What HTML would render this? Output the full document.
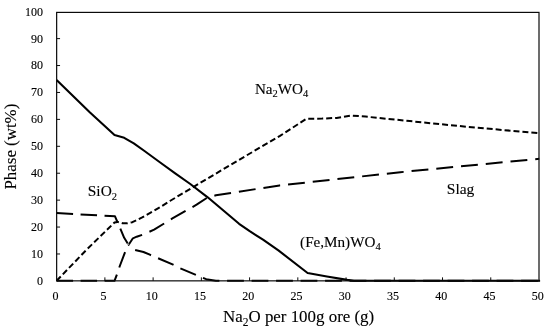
<!DOCTYPE html>
<html><head><meta charset="utf-8"><title>Phase diagram</title>
<style>
html,body{margin:0;padding:0;background:#fff;}
svg{display:block;font-family:"Liberation Serif",serif;fill:#000;}
text{stroke:#000;stroke-width:0.12px;}
.t{font-size:12px;}
.l{font-size:15.4px;}
.a{font-size:16.9px;}
</style></head><body>
<svg width="550" height="333" viewBox="0 0 550 333">
<rect width="550" height="333" fill="#fff"/>
<g fill="none" stroke="#000" stroke-width="2.0" stroke-linejoin="round">
<path d="M56.6,213.1 L115.0,216.3 L117.4,221.9 L124.2,237.8 L128.6,244.8" stroke-dasharray="16.5 7.5" stroke-dashoffset="0.00"/><path d="M128.6,244.8 L133.8,249.6 L143.5,252.0 L149.8,254.7 L173.1,264.7 L179.9,268.2 L206.2,279.2 L215.9,280.8 L539.3,280.8" stroke-dasharray="16.8 7.7" stroke-dashoffset="16.05"/><path d="M56.6,280.8 L114.5,280.8 L117.4,273.3 L119.8,266.0 L125.6,250.7 L128.6,244.8" stroke-dasharray="16.5 7.5" stroke-dashoffset="0.00"/><path d="M128.6,244.8 L132.9,238.3 L136.7,236.7 L143.7,234.3 L154.1,229.7 L172.4,218.4 L196.6,204.7 L207.2,197.7 L215.9,195.3 L279.6,185.4 L400.3,172.2 L539.3,158.8" stroke-dasharray="16.9 7.95" stroke-dashoffset="24.12"/><path d="M56.6,280.8 L85.6,250.7 L114.5,222.5 L117.4,221.9 L122.6,223.3 L127.1,223.3 L132.4,222.2 L142.2,217.4 L160.3,207.1 L169.9,201.0 L201.4,182.2 L239.1,159.8 L280.0,135.9 L306.4,118.7 L322.1,118.6 L336.6,117.9 L351.0,115.5 L365.5,116.6 L409.9,121.1 L468.8,127.0 L539.3,133.2" stroke-dasharray="5.98 2.985" stroke-dashoffset="0.00"/>
<path d="M56.6,80.0 L90.0,112.5 L114.5,135.1 L124.2,137.8 L133.8,143.3 L144.5,151.0 L160.2,162.5 L175.2,173.4 L190.3,184.0 L207.7,197.3 L239.1,223.8 L249.7,231.1 L263.0,239.7 L278.4,250.4 L307.6,273.0 L326.9,276.5 L347.2,279.9 L353.9,280.8 L540.1,280.8" stroke-width="2.1"/>
</g>
<g stroke="#000" stroke-width="0.95" fill="none"><line x1="56.65" y1="253.98" x2="60.05" y2="253.98"/><line x1="56.65" y1="227.06" x2="60.05" y2="227.06"/><line x1="56.65" y1="200.14" x2="60.05" y2="200.14"/><line x1="56.65" y1="173.22" x2="60.05" y2="173.22"/><line x1="56.65" y1="146.30" x2="60.05" y2="146.30"/><line x1="56.65" y1="119.38" x2="60.05" y2="119.38"/><line x1="56.65" y1="92.46" x2="60.05" y2="92.46"/><line x1="56.65" y1="65.54" x2="60.05" y2="65.54"/><line x1="56.65" y1="38.62" x2="60.05" y2="38.62"/><line x1="104.88" y1="280.85" x2="104.88" y2="277.35"/><line x1="153.12" y1="280.85" x2="153.12" y2="277.35"/><line x1="201.36" y1="280.85" x2="201.36" y2="277.35"/><line x1="249.59" y1="280.85" x2="249.59" y2="277.35"/><line x1="297.82" y1="280.85" x2="297.82" y2="277.35"/><line x1="346.06" y1="280.85" x2="346.06" y2="277.35"/><line x1="394.29" y1="280.85" x2="394.29" y2="277.35"/><line x1="442.53" y1="280.85" x2="442.53" y2="277.35"/><line x1="490.76" y1="280.85" x2="490.76" y2="277.35"/></g>
<rect x="56.65" y="12.4" width="482.35" height="268.45000000000005" fill="none" stroke="#0a0a0a" stroke-width="1.2"/>
<g class="t"><text x="43" y="285" text-anchor="end">0</text><text x="43" y="258" text-anchor="end">10</text><text x="43" y="231" text-anchor="end">20</text><text x="43" y="204" text-anchor="end">30</text><text x="43" y="177" text-anchor="end">40</text><text x="43" y="150" text-anchor="end">50</text><text x="43" y="123" text-anchor="end">60</text><text x="43" y="96" text-anchor="end">70</text><text x="43" y="69" text-anchor="end">80</text><text x="43" y="43" text-anchor="end">90</text><text x="43" y="16" text-anchor="end">100</text><text x="55.4" y="299.9" text-anchor="middle">0</text><text x="103.6" y="299.9" text-anchor="middle">5</text><text x="151.8" y="299.9" text-anchor="middle">10</text><text x="200.1" y="299.9" text-anchor="middle">15</text><text x="248.3" y="299.9" text-anchor="middle">20</text><text x="296.5" y="299.9" text-anchor="middle">25</text><text x="344.8" y="299.9" text-anchor="middle">30</text><text x="393.0" y="299.9" text-anchor="middle">35</text><text x="441.2" y="299.9" text-anchor="middle">40</text><text x="489.5" y="299.9" text-anchor="middle">45</text><text x="537.7" y="299.9" text-anchor="middle">50</text></g>
<text class="a" transform="translate(16.3,146.6) rotate(-90)" text-anchor="middle">Phase (wt%)</text>
<text class="a" x="298.6" y="322" text-anchor="middle">Na<tspan font-size="11.5" dy="4">2</tspan><tspan dy="-4">O per 100g ore (g)</tspan></text>
<g class="l">
<text x="254.9" y="93.9" font-size="15.15">Na<tspan font-size="10.5" dy="3">2</tspan><tspan dy="-3">WO</tspan><tspan font-size="10.5" dy="3">4</tspan></text>
<text x="87.8" y="196.0">SiO<tspan font-size="10.5" dy="3.6">2</tspan></text>
<text x="446.8" y="194.3" font-size="15.5">Slag</text>
<text x="300.1" y="246.9" font-size="15.15">(Fe,Mn)WO<tspan font-size="10.5" dy="3">4</tspan></text>
</g>
</svg>
</body></html>
